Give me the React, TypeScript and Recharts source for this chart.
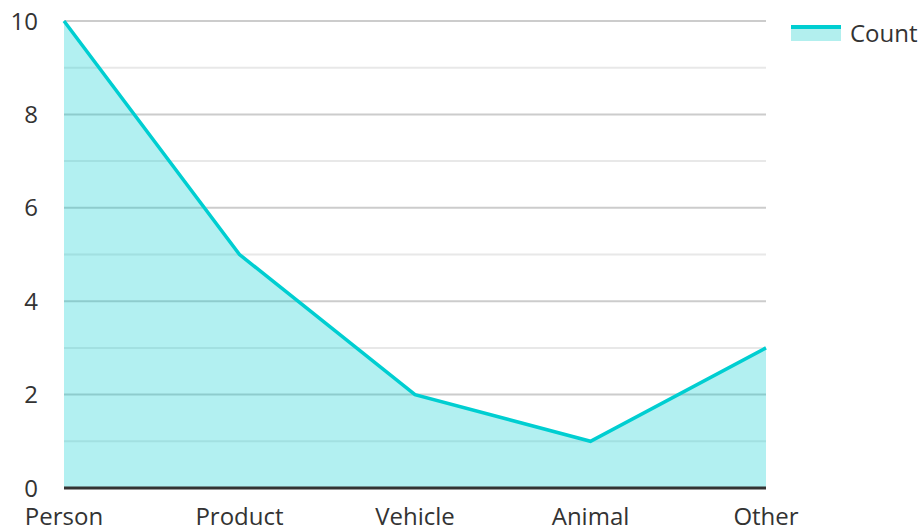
import React from 'react';
import { AreaChart, Area, XAxis, YAxis, CartesianGrid } from 'recharts';

const categories = ['Person', 'Product', 'Vehicle', 'Animal', 'Other'];
const counts = [10, 5, 2, 1, 3];
const yTicks = [0, 2, 4, 6, 8, 10];
const minorLines = [1, 3, 5, 7, 9];
const majorLines = [2, 4, 6, 8, 10];

const data = categories.map((name, i) => ({ name, Count: counts[i] }));

const LINE = '#00CED1';
const FILL = '#b2efee';
const FONT = '"Open Sans", sans-serif';

const LegendBox = () => (
  <div
    style={{
      position: 'absolute',
      left: 791,
      top: 16,
      display: 'flex',
      alignItems: 'center',
      fontFamily: FONT,
      fontSize: 24,
      color: '#333',
      whiteSpace: 'nowrap',
    }}
  >
    <svg width={50} height={16} style={{ marginRight: 9 }}>
      <rect x={0} y={2} width={50} height={14} fill={FILL} />
      <rect x={0} y={0} width={50} height={4} fill={LINE} />
    </svg>
    <span>Count</span>
  </div>
);

const App: React.FC = () => {
  return (
    <div style={{ position: 'absolute', left: 0, top: 0, width: 924, height: 529 }}>
      <AreaChart
        width={924}
        height={529}
        data={data}
        margin={{ top: 21, right: 158, left: 0, bottom: 0 }}
      >
        <CartesianGrid vertical={false} horizontalValues={minorLines} stroke="#e8e8e8" strokeWidth={2} />
        <CartesianGrid vertical={false} horizontalValues={majorLines} stroke="#cccccc" strokeWidth={2} />
        <XAxis
          dataKey="name"
          height={41}
          tickLine={false}
          axisLine={{ stroke: '#333', strokeWidth: 3 }}
          tick={{ fontSize: 24, fill: '#333', fontFamily: FONT }}
          tickMargin={14}
          interval={0}
        />
        <YAxis
          width={64}
          domain={[0, 10]}
          ticks={yTicks}
          tickLine={false}
          axisLine={false}
          tickSize={0}
          tickMargin={26}
          tick={{ fontSize: 24, fill: '#333', fontFamily: FONT }}
        />
        <Area
          type="linear"
          dataKey="Count"
          stroke={LINE}
          strokeWidth={3.5}
          fill={LINE}
          fillOpacity={0.3}
          isAnimationActive={false}
        />
      </AreaChart>
      <LegendBox />
    </div>
  );
};

export default App;
